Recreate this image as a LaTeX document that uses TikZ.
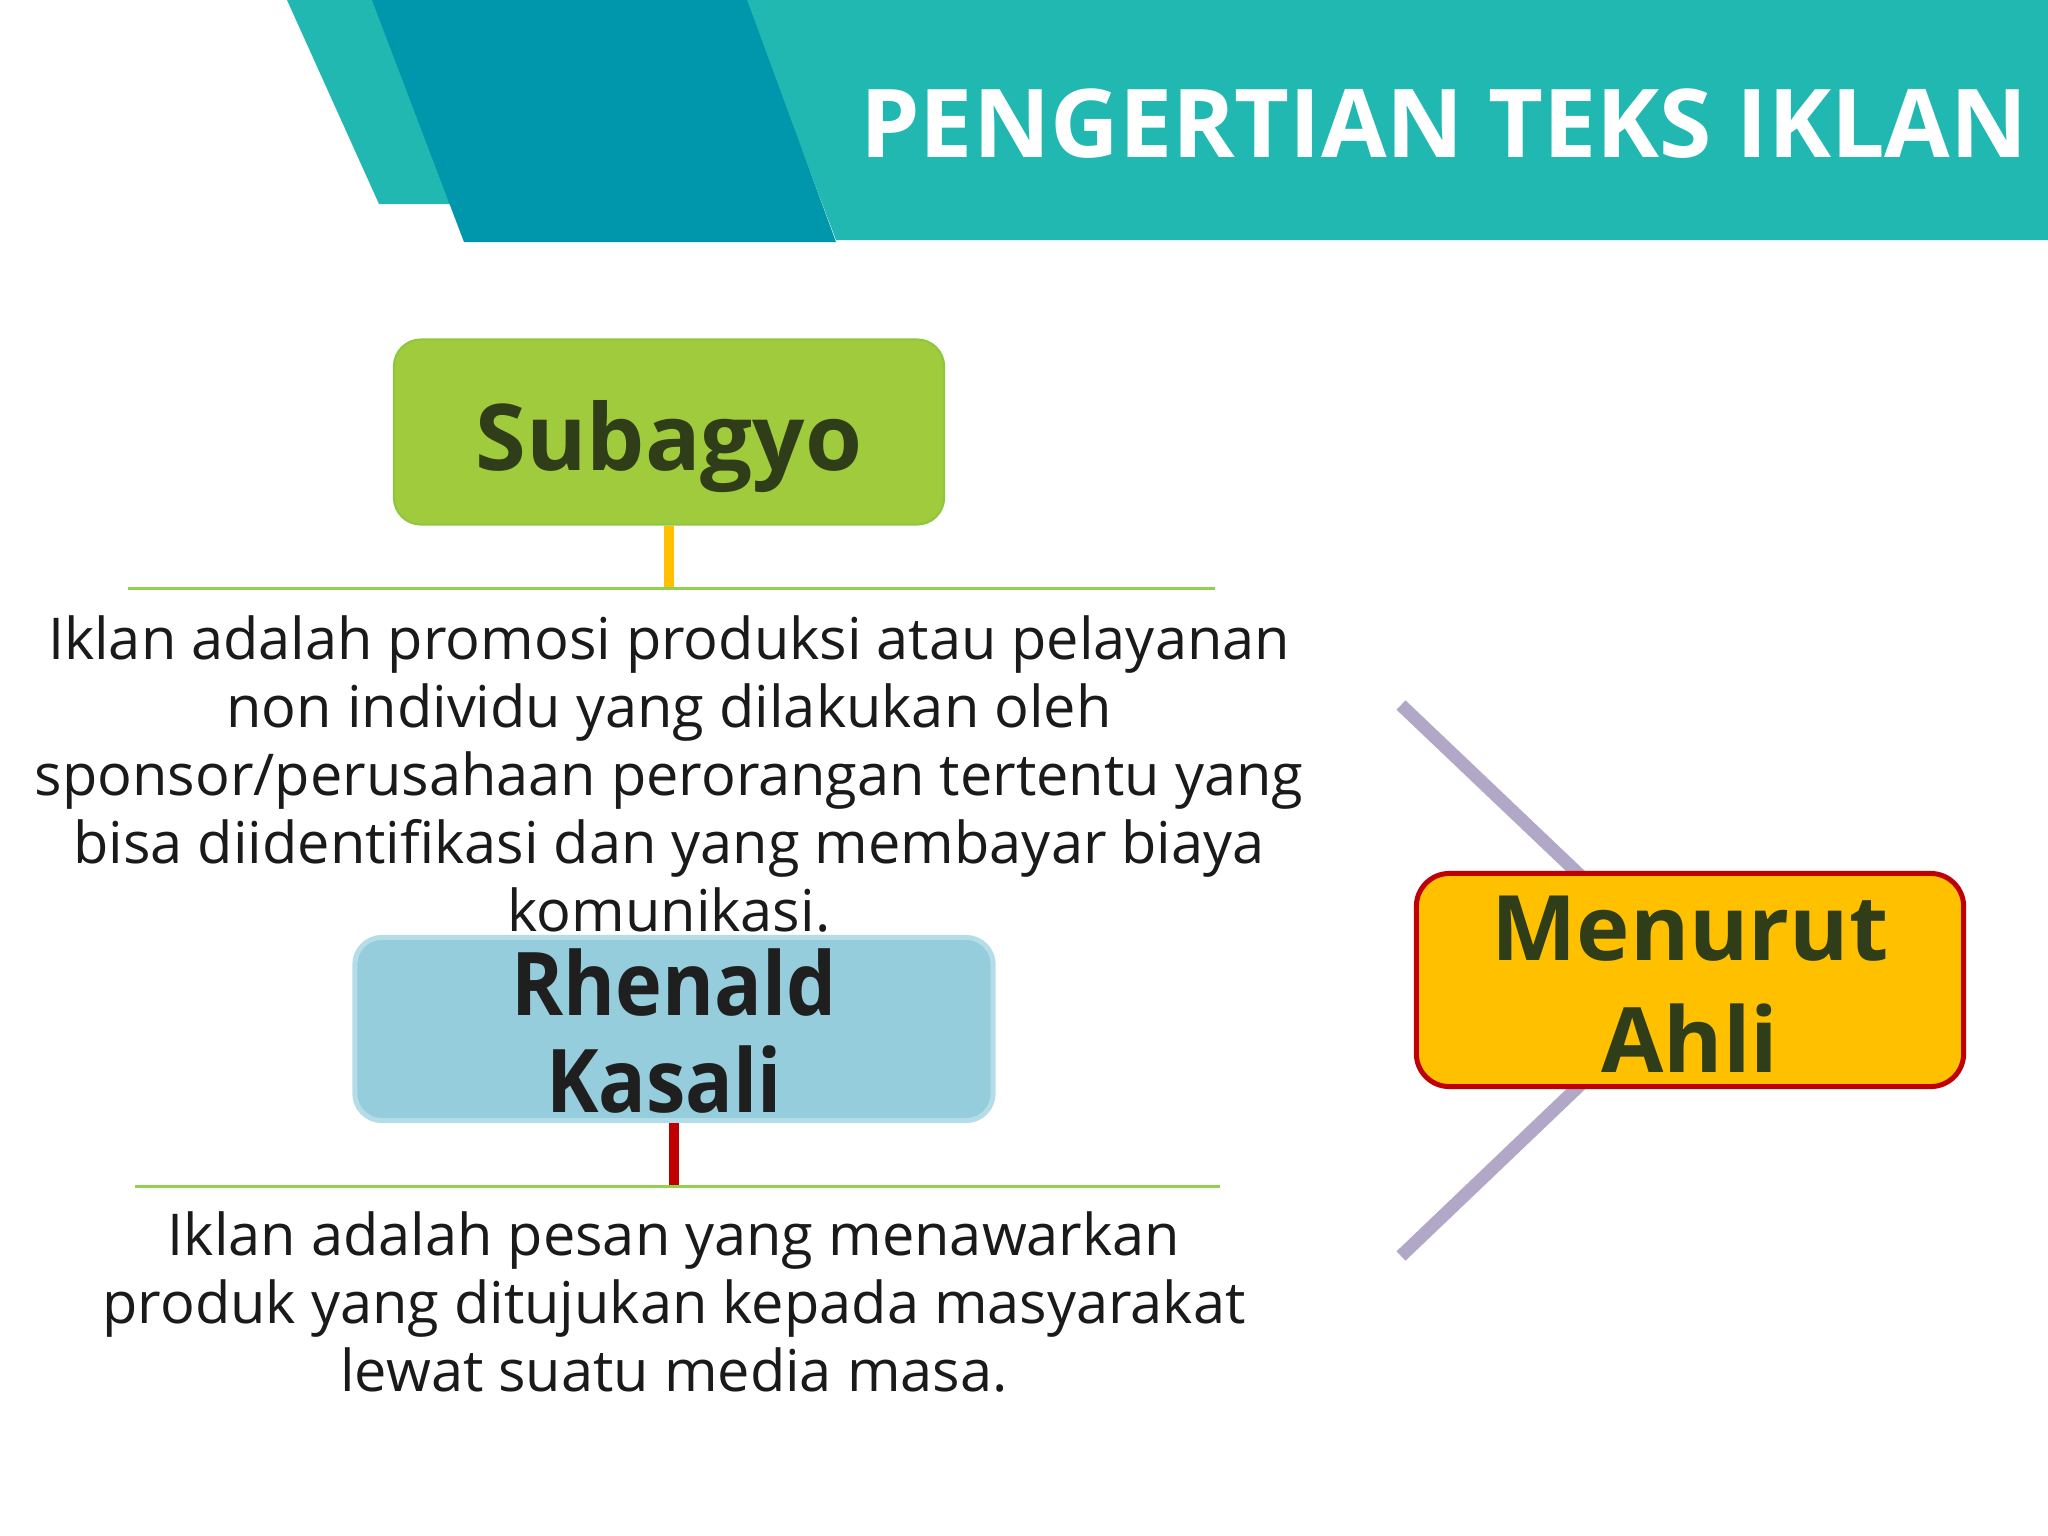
\documentclass[tikz,border=0pt]{standalone}
\usepackage{fontspec}
\setmainfont{Open Sans}
\newfontfamily\condbold[FakeStretch=0.9]{Open Sans Bold}
\usetikzlibrary{backgrounds}
\definecolor{tealA}{HTML}{22B8B2}
\definecolor{tealB}{HTML}{0097AD}
\definecolor{subfill}{HTML}{A0CB3C}
\definecolor{subdraw}{HTML}{8DC63F}
\definecolor{olive}{HTML}{2F3D18}
\definecolor{blfill}{HTML}{95CDDD}
\definecolor{bldraw}{HTML}{B4DDE8}
\definecolor{ylfill}{HTML}{FFC000}
\definecolor{rdline}{HTML}{C00000}
\definecolor{grline}{HTML}{92D050}
\definecolor{lav}{HTML}{B1A8C8}
\definecolor{bodytxt}{HTML}{1A1A1A}
\tikzset{
  x=0.01cm, y=-0.01cm,
  namebox/.style={rounded corners=0.27cm, inner sep=0pt},
  nametext/.style={align=center, inner sep=0pt, font=\bfseries},
  bodytext/.style={align=center, text=bodytxt, inner sep=0pt, font=\fontsize{16.4}{19.35}\selectfont},
  stem/.style={line width=0.1cm},
  rule/.style={grline, line width=0.03cm},
  chev/.style={lav, line width=0.13cm}
}
\begin{document}
\begin{tikzpicture}
\useasboundingbox (0,0) rectangle (2048,1536);
% header
\fill[tealA] (287,0) -- (760,0) -- (760,204) -- (379,204) -- cycle;
\fill[tealA] (745,0) -- (2048,0) -- (2048,240) -- (836,240) -- cycle;
\fill[tealB] (372,0) -- (747,0) -- (836,242) -- (464,242) -- cycle;
\node[text=white, font=\bfseries\fontsize{27}{30}\selectfont, inner sep=0pt] (title) at (1444,124) {PENGERTIAN TEKS IKLAN};

% Subagyo
\node[namebox, fill=subfill, draw=subdraw, line width=0.02cm, minimum width=5.5cm, minimum height=1.85cm] (sub) at (669,432) {};
\node[nametext, text=olive, font=\bfseries\fontsize{26.2}{30}\selectfont, anchor=base] (subname) at (669,470) {Subagyo};
\coordinate (subrule) at (669,588);
\draw[ylfill, stem] (sub.south) -- (subrule);
\draw[rule] (128,588) -- (1215,588);
\node[bodytext] (subtxt) at (669,774) {Iklan adalah promosi produksi atau pelayanan\\non individu yang dilakukan oleh\\sponsor/perusahaan perorangan tertentu yang\\bisa diidentifikasi dan yang membayar biaya\\komunikasi.};

% Rhenald Kasali
\node[namebox, fill=blfill, draw=bldraw, line width=0.05cm, minimum width=6.38cm, minimum height=1.83cm] (rk) at (674,1029) {};
\node[nametext, text=black!88, font=\condbold\fontsize{25}{27.8}\selectfont] (rkname) at (674,1031) {Rhenald\\Kasali\hspace*{0.2cm}};
\coordinate (rkrule) at (674,1186);
\draw[rdline, stem] (rk.south) -- (rkrule);
\draw[rule] (135,1186) -- (1220,1186);
\node[bodytext] (rktxt) at (674,1302) {Iklan adalah pesan yang menawarkan\\produk yang ditujukan kepada masyarakat\\lewat suatu media masa.};

% Menurut Ahli
\node[namebox, fill=ylfill, draw=rdline, line width=0.05cm, rounded corners=0.33cm, minimum width=5.47cm, minimum height=2.13cm] (ahli) at (1690,980) {};
\node[nametext, text=olive, font=\bfseries\fontsize{25.7}{31.8}\selectfont] (ahliname) at (1690,984) {Menurut\\Ahli};
\coordinate (chevtop) at (1401,705);
\coordinate (chevbot) at (1401,1256);
\begin{scope}[on background layer]
\fill[white] (0,0) rectangle (2048,1536);
\draw[chev] (ahli.center) -- (chevtop);
\draw[chev] (ahli.center) -- (chevbot);
\end{scope}
\end{tikzpicture}
\end{document}
